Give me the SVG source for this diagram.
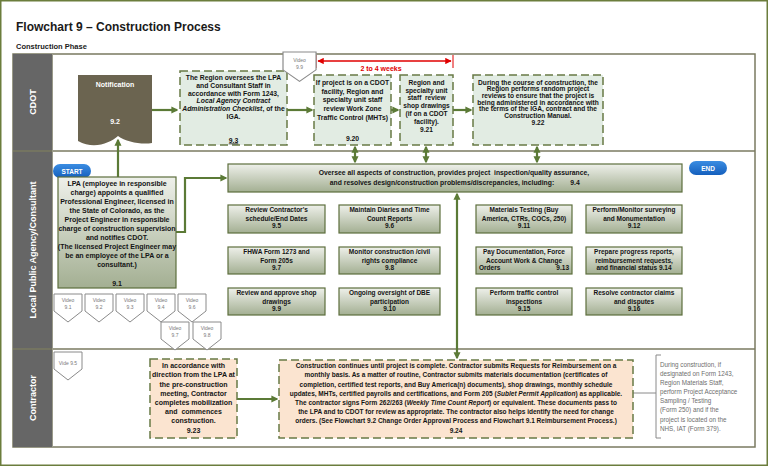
<svg xmlns="http://www.w3.org/2000/svg" width="768" height="466" viewBox="0 0 768 466">
<style>
.b{font-family:"Liberation Sans Narrow","Liberation Sans",Arial,sans-serif;font-weight:bold;fill:#141414;text-anchor:middle}
.w{fill:#ffffff}
.lane{font-family:"Liberation Sans",Arial,sans-serif;font-weight:bold;fill:#ffffff;font-size:9px;text-anchor:middle}
.vid{font-family:"Liberation Sans",Arial,sans-serif;fill:#7a7a7a;font-size:5px;text-anchor:middle}
.ann{font-family:"Liberation Sans",Arial,sans-serif;fill:#6e6e6e;font-size:6.3px}
.dg{fill:#e2ece3;stroke:#687a45;stroke-width:1.5;stroke-dasharray:8 4}
.dp{fill:#fbe4d0;stroke:#687a45;stroke-width:1.5;stroke-dasharray:8 4}
.gb{fill:url(#gg);stroke:#5d6e3d;stroke-width:1.2}
.pent{fill:#ffffff;stroke:#8a8a8a;stroke-width:1}
.con{fill:none;stroke:#5b7a36;stroke-width:2.2}
.i{font-style:italic}
</style>
<defs>
<linearGradient id="gg" x1="0" y1="0" x2="0" y2="1">
<stop offset="0" stop-color="#eef0ea"/>
<stop offset="1" stop-color="#a3af92"/>
</linearGradient>
<linearGradient id="bl" x1="0" y1="0" x2="0" y2="1">
<stop offset="0" stop-color="#3b8de2"/>
<stop offset="1" stop-color="#145fbd"/>
</linearGradient>
<marker id="ag" viewBox="0 0 10 10" refX="8" refY="5" markerWidth="3.2" markerHeight="3.2" orient="auto-start-reverse">
<path d="M0,0 L10,5 L0,10 z" fill="#5b7a36"/>
</marker>
<marker id="ar" viewBox="0 0 10 10" refX="9" refY="5" markerWidth="4" markerHeight="4" orient="auto-start-reverse">
<path d="M0,0 L10,5 L0,10 z" fill="#e00000"/>
</marker>
<path id="pent" d="M0,0 H28 V17 L14,28 L0,17 Z"/>
</defs>

<rect x="0" y="0" width="768" height="466" fill="#ffffff"/>
<rect x="0.75" y="0.75" width="766.5" height="464.5" fill="none" stroke="#6b7d3c" stroke-width="1.5"/>

<text x="16" y="31" font-family="Liberation Sans,Arial,sans-serif" font-weight="bold" font-size="12" fill="#1a1a1a">Flowchart 9 – Construction Process</text>
<text x="16" y="49" font-family="Liberation Sans,Arial,sans-serif" font-weight="bold" font-size="7.5" fill="#1a1a1a">Construction Phase</text>

<g id="lanes">
<rect x="13" y="54" width="742" height="393" fill="#ffffff" stroke="#7a7a60" stroke-width="1.5"/>
<rect x="13" y="54" width="39" height="393" fill="#666666"/>
<line x1="13" y1="151" x2="755" y2="151" stroke="#7a7a60" stroke-width="1.5"/>
<line x1="13" y1="349" x2="755" y2="349" stroke="#7a7a60" stroke-width="1.5"/>
<line x1="52.5" y1="54" x2="52.5" y2="447" stroke="#9a9a8a" stroke-width="1"/>
<text class="lane" transform="translate(36,102) rotate(-90)">CDOT</text>
<text class="lane" transform="translate(36,250) rotate(-90)">Local Public Agency/Consultant</text>
<text class="lane" transform="translate(36,398) rotate(-90)">Contractor</text>
</g>

<g id="connectors">
<path class="con" d="M118,177 V140" marker-end="url(#ag)"/>
<path class="con" d="M152,110 H177" marker-end="url(#ag)"/>
<path class="con" d="M287,110 H312" marker-end="url(#ag)"/>
<path class="con" d="M391,110 H398" marker-end="url(#ag)"/>
<path class="con" d="M453,110 H471" marker-end="url(#ag)"/>
<path class="con" d="M355,147 V162" marker-start="url(#ag)" marker-end="url(#ag)"/>
<path class="con" d="M426,147 V162" marker-start="url(#ag)" marker-end="url(#ag)"/>
<path class="con" d="M537,147 V162" marker-start="url(#ag)" marker-end="url(#ag)"/>
<path class="con" d="M176,232 H185 V178 H226" marker-end="url(#ag)"/>
<path class="con" d="M457,358 V194" marker-start="url(#ag)" marker-end="url(#ag)"/>
<path class="con" d="M237,399 H277" marker-end="url(#ag)"/>
<path d="M633,393 H656" fill="none" stroke="#8a8a8a" stroke-width="1"/>
<g id="duration">
<line x1="316" y1="55" x2="316" y2="68" stroke="#e00000" stroke-width="1"/>
<line x1="453" y1="55" x2="453" y2="68" stroke="#e00000" stroke-width="1"/>
<path d="M318,61 H451" fill="none" stroke="#e00000" stroke-width="1.6" marker-start="url(#ar)" marker-end="url(#ar)"/>
<text x="381" y="71" font-family="Liberation Sans,Arial,sans-serif" font-weight="bold" font-size="7" fill="#e00000" text-anchor="middle">2 to 4 weeks</text>
</g>
</g>

<g id="n9_2">
<path d="M78,75 H152 V143 C142,145 126,142 118,136 C110,143 94,150 78,141 Z" fill="#6b6450"/>
<text class="b w" x="115" y="87" font-size="7">Notification</text>
<text class="b w" x="115" y="124" font-size="7">9.2</text>
</g>

<g id="n9_3">
<rect class="dg" x="180" y="71" width="107" height="74"/>
<g class="b" font-size="6.8">
<text x="233.5" y="80">The Region oversees the LPA</text>
<text x="233.5" y="88">and Consultant Staff in</text>
<text x="233.5" y="95.7">accordance with Form 1243,</text>
<text x="233.5" y="103.4" class="i">Local Agency Contract</text>
<text x="233.5" y="111.1"><tspan class="i">Administration Checklist</tspan>, of the</text>
<text x="233.5" y="118.6">IGA.</text>
<text x="233.5" y="142.5" text-decoration="underline">9.3</text>
</g>
</g>

<g id="v9_9">
<use href="#pent" class="pent" transform="translate(283,52) scale(1.18,1.05)"/>
<text class="vid" x="299.5" y="61.5" font-size="5.5">Video</text>
<text class="vid" x="299.5" y="69" font-size="5.5">9.9</text>
</g>

<g id="n9_20">
<rect class="dg" x="314" y="75" width="77" height="70"/>
<g class="b" font-size="6.8">
<text x="352.5" y="84.8">If project is on a CDOT</text>
<text x="352.5" y="93.6">facility, Region and</text>
<text x="352.5" y="102.4">specialty unit staff</text>
<text x="352.5" y="111.2">review Work Zone</text>
<text x="352.5" y="120">Traffic Control (MHTs)</text>
<text x="352.5" y="140.5">9.20</text>
</g>
</g>

<g id="n9_21">
<rect class="dg" x="400" y="75" width="53" height="70"/>
<g class="b" font-size="6.6">
<text x="426.5" y="84.8">Region and</text>
<text x="426.5" y="92.6">specialty unit</text>
<text x="426.5" y="100.4" xml:space="preserve">staff  review</text>
<text x="426.5" y="108.2">shop drawings</text>
<text x="426.5" y="116">(if on a CDOT</text>
<text x="426.5" y="123.8">facility).</text>
<text x="426.5" y="131.6">9.21</text>
</g>
</g>

<g id="n9_22">
<rect class="dg" x="473" y="75" width="130" height="70"/>
<g class="b" font-size="6.6">
<text x="538" y="84.6">During the course of construction, the</text>
<text x="538" y="91.3">Region performs random project</text>
<text x="538" y="98">reviews to ensure that the project is</text>
<text x="538" y="104.7">being administered in accordance with</text>
<text x="538" y="111.4">the terms of the IGA, contract and the</text>
<text x="538" y="118.1">Construction Manual.</text>
<text x="538" y="124.8">9.22</text>
</g>
</g>

<g id="start">
<rect x="53" y="164" width="38" height="14" rx="7" fill="url(#bl)"/>
<text class="b w" x="72" y="173.5" font-size="6.5">START</text>
</g>

<g id="end">
<rect x="689" y="161" width="38" height="14" rx="7" fill="url(#bl)"/>
<text class="b w" x="708" y="170.5" font-size="6.5">END</text>
</g>

<g id="n9_1">
<rect class="gb" x="58" y="177" width="118" height="111"/>
<g class="b" font-size="7">
<text x="117" y="185.8">LPA (employee in responsible</text>
<text x="117" y="194.8">charge) appoints a qualified</text>
<text x="117" y="203.8">Professional Engineer, licensed in</text>
<text x="117" y="212.8">the State of Colorado, as the</text>
<text x="117" y="221.8">Project Engineer in responsible</text>
<text x="117" y="230.8">charge of construction supervision</text>
<text x="117" y="239.8">and notifies CDOT.</text>
<text x="117" y="248.8">(The licensed Project Engineer may</text>
<text x="117" y="257.8">be an employee of the LPA or a</text>
<text x="117" y="266.8">consultant.)</text>
<text x="117" y="285.5">9.1</text>
</g>
</g>

<g id="n9_4">
<rect class="gb" x="228" y="164" width="454" height="28"/>
<g class="b" font-size="6.8">
<text x="454" y="175" xml:space="preserve">Oversee all aspects of construction, provides project  inspection/quality assurance,</text>
<text x="442" y="185">and resolves design/construction problems/discrepancies, including:</text>
<text x="575" y="185">9.4</text>
</g>
</g>

<g class="b" font-size="6.5">
<g id="n9_5"><rect class="gb" x="228" y="205" width="97" height="28"/>
<text x="276.5" y="212.3">Review Contractor's</text><text x="276.5" y="220.6">schedule/End Dates</text><text x="276.5" y="228">9.5</text></g>
<g id="n9_6"><rect class="gb" x="339" y="205" width="101" height="28"/>
<text x="389.5" y="212.3">Maintain Diaries and Time</text><text x="389.5" y="220.6">Count Reports</text><text x="389.5" y="228">9.6</text></g>
<g id="n9_11"><rect class="gb" x="476" y="205" width="96" height="28"/>
<text x="524" y="212.3">Materials Testing (Buy</text><text x="524" y="220.6">America, CTRs, COCs, 250)</text><text x="524" y="228">9.11</text></g>
<g id="n9_12"><rect class="gb" x="586" y="205" width="96" height="28"/>
<text x="634" y="212.3">Perform/Monitor surveying</text><text x="634" y="220.6">and Monumentation</text><text x="634" y="228">9.12</text></g>

<g id="n9_7"><rect class="gb" x="228" y="247" width="97" height="27"/>
<text x="276.5" y="254.3">FHWA Form 1273 and</text><text x="276.5" y="262.6">Form 205s</text><text x="276.5" y="270">9.7</text></g>
<g id="n9_8"><rect class="gb" x="339" y="247" width="101" height="27"/>
<text x="389.5" y="254.3">Monitor construction /civil</text><text x="389.5" y="262.6">rights compliance</text><text x="389.5" y="270">9.8</text></g>
<g id="n9_13"><rect class="gb" x="476" y="247" width="96" height="27"/>
<text x="524" y="254.3">Pay Documentation, Force</text><text x="524" y="262.6">Account Work &amp; Change</text><text x="479" y="270" text-anchor="start">Orders</text><text x="569" y="270" text-anchor="end">9.13</text></g>
<g id="n9_14"><rect class="gb" x="586" y="247" width="96" height="27"/>
<text x="634" y="254.3">Prepare progress reports,</text><text x="634" y="262.6">reimbursement requests,</text><text x="634" y="270">and financial status 9.14</text></g>

<g id="n9_9"><rect class="gb" x="228" y="288" width="97" height="27"/>
<text x="276.5" y="295.3">Review and approve shop</text><text x="276.5" y="303.6">drawings</text><text x="276.5" y="311">9.9</text></g>
<g id="n9_10"><rect class="gb" x="339" y="288" width="101" height="27"/>
<text x="389.5" y="295.3">Ongoing oversight of DBE</text><text x="389.5" y="303.6">participation</text><text x="389.5" y="311">9.10</text></g>
<g id="n9_15"><rect class="gb" x="476" y="288" width="96" height="27"/>
<text x="524" y="295.3">Perform traffic control</text><text x="524" y="303.6">inspections</text><text x="524" y="311">9.15</text></g>
<g id="n9_16"><rect class="gb" x="586" y="288" width="96" height="27"/>
<text x="634" y="295.3">Resolve contractor claims</text><text x="634" y="303.6">and disputes</text><text x="634" y="311">9.16</text></g>
</g>

<g id="v9_1"><use href="#pent" class="pent" x="54" y="294"/><text class="vid" x="68" y="301.5">Video</text><text class="vid" x="68" y="308.5">9.1</text></g>
<g id="v9_2"><use href="#pent" class="pent" x="85" y="294"/><text class="vid" x="99" y="301.5">Video</text><text class="vid" x="99" y="308.5">9.2</text></g>
<g id="v9_3"><use href="#pent" class="pent" x="116" y="294"/><text class="vid" x="130" y="301.5">Video</text><text class="vid" x="130" y="308.5">9.3</text></g>
<g id="v9_4"><use href="#pent" class="pent" x="147" y="294"/><text class="vid" x="161" y="301.5">Video</text><text class="vid" x="161" y="308.5">9.4</text></g>
<g id="v9_6"><use href="#pent" class="pent" x="178" y="294"/><text class="vid" x="192" y="301.5">Video</text><text class="vid" x="192" y="308.5">9.6</text></g>
<g id="v9_7"><use href="#pent" class="pent" x="161" y="322"/><text class="vid" x="175" y="329.5">Video</text><text class="vid" x="175" y="336.5">9.7</text></g>
<g id="v9_8"><use href="#pent" class="pent" x="193" y="322"/><text class="vid" x="207" y="329.5">Video</text><text class="vid" x="207" y="336.5">9.8</text></g>
<g id="v9_5"><use href="#pent" class="pent" x="54" y="352"/><text class="vid" x="68" y="364.5">Vide 9.5</text></g>

<g id="n9_23">
<rect class="dp" x="150" y="359" width="87" height="79"/>
<g class="b" font-size="7">
<text x="193.5" y="368.1">In accordance with</text>
<text x="193.5" y="377.3">direction from the LPA at</text>
<text x="193.5" y="386.5">the pre-construction</text>
<text x="193.5" y="395.7">meeting, Contractor</text>
<text x="193.5" y="404.9">completes mobilization</text>
<text x="193.5" y="414.1" xml:space="preserve">and  commences</text>
<text x="193.5" y="423.3">construction.</text>
<text x="193.5" y="432.5">9.23</text>
</g>
</g>

<g id="n9_24">
<rect class="dp" x="279" y="360" width="354" height="78"/>
<g class="b" font-size="6.5" xml:space="preserve">
<text x="456" y="368.1">Construction continues until project is complete. Contractor submits Requests for Reimbursement on a</text>
<text x="456" y="377.3">monthly basis.   As a matter of routine, Contractor submits materials documentation (certificates of</text>
<text x="456" y="386.5">completion, certified test reports, and Buy America(n) documents), shop drawings, monthly schedule</text>
<text x="456" y="395.7">updates, MHTs, certified payrolls and certifications, and Form 205 (<tspan class="i">Sublet Permit Application</tspan>) as applicable.</text>
<text x="456" y="404.9">The contractor signs Form 262/263 (<tspan class="i">Weekly Time Count Report</tspan>) or equivalent.  These documents pass to</text>
<text x="456" y="414.1">the LPA and to CDOT for review as appropriate.   The contractor also helps identify the need for change</text>
<text x="456" y="423.3">orders.  (See Flowchart 9.2 Change Order Approval Process and Flowchart 9.1 Reimbursement Process.)</text>
<text x="456" y="432.5">9.24</text>
</g>
</g>

<g id="note">
<path d="M661,355 H656 V438 H661" fill="none" stroke="#8a8a8a" stroke-width="1"/>
<g class="ann">
<text x="660" y="367">During construction, if</text>
<text x="660" y="375.6">designated on Form 1243,</text>
<text x="660" y="384.9">Region Materials Staff,</text>
<text x="660" y="393.9">perform Project Acceptance</text>
<text x="660" y="403.2">Sampling / Testing</text>
<text x="660" y="412.2">(Form 250) and if the</text>
<text x="660" y="422">project is located on the</text>
<text x="660" y="430.5">NHS, IAT (Form 379).</text>
</g>
</g>
</svg>
